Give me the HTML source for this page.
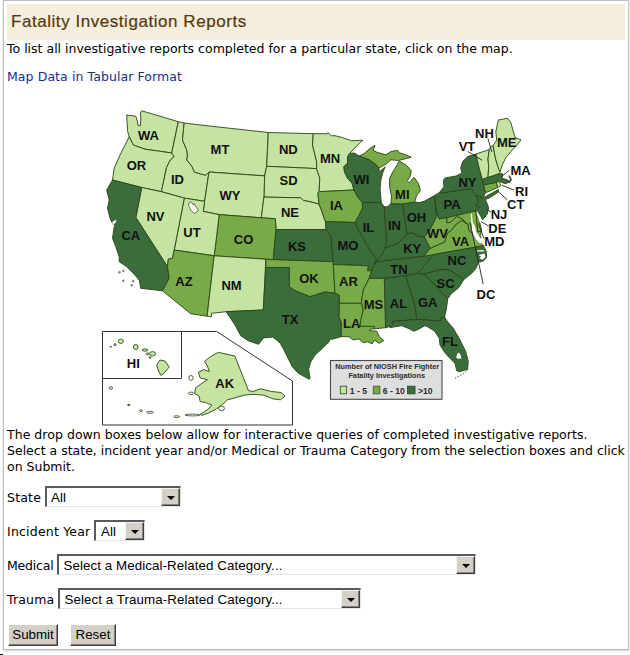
<!DOCTYPE html>
<html><head><meta charset="utf-8"><title>Fatality Investigation Reports</title>
<style>
html,body{margin:0;padding:0;background:#fff;}
body{width:630px;height:655px;position:relative;overflow:hidden;font-family:"DejaVu Sans","Liberation Sans",sans-serif;font-size:12.5px;color:#000;}
#frame{position:absolute;left:3px;top:0;width:624px;height:648px;border:1px solid #bdbdbd;box-sizing:content-box;box-shadow:0 1px 2px rgba(0,0,0,.18);}
#band{position:absolute;left:7px;top:4px;width:618px;height:35.5px;background:#f5eedc;}
h1{position:absolute;left:11px;top:12px;margin:0;font:normal 17px/20px "Liberation Sans",sans-serif;color:#54390f;-webkit-text-stroke:.2px #54390f;white-space:nowrap;letter-spacing:.55px;}
.t{position:absolute;left:7px;margin:0;white-space:nowrap;line-height:16px;}
a{color:#1b2d8c;text-decoration:none;letter-spacing:.08px;}
.sel{position:absolute;height:21px;box-sizing:border-box;background:#fff;border:solid;border-width:2px 1px 1px 2px;border-color:#5a5a5a #e4e4e4 #e4e4e4 #5a5a5a;font:13.33px/20px "Liberation Sans",sans-serif;letter-spacing:.08px;padding-left:4px;white-space:nowrap;}
.sel i{position:absolute;right:0;top:0;width:19px;height:18px;box-sizing:border-box;background:#d4d0c8;border:1px solid;border-color:#f4f2ee #404040 #404040 #f4f2ee;box-shadow:inset -1px -1px 0 #808080;}
.sel i:after{content:"";position:absolute;left:5px;top:7px;border:4px solid transparent;border-top:4px solid #000;border-bottom:0;}
.btn{position:absolute;height:21px;box-sizing:border-box;background:#d4d0c8;border:1px solid;border-color:#fff #404040 #404040 #fff;box-shadow:inset -1px -1px 0 #808080;font:13.33px/19px "Liberation Sans",sans-serif;text-align:center;}
#map{position:absolute;left:0;top:0;}
</style></head><body>
<div id="frame"></div>
<div id="spot" style="position:absolute;left:0;top:654px;width:3px;height:1px;background:#111"></div>
<div id="band"></div>
<h1>Fatality Investigation Reports</h1>
<p class="t" style="top:41px">To list all investigative reports completed for a particular state, click on the map.</p>
<p class="t" style="top:69px"><a href="#">Map Data in Tabular Format</a></p>
<svg id="map" width="630" height="655" viewBox="0 0 630 655">
<path d="M141.7 110.8 L178.3 121.7 L171.7 153.0 L156.7 150.8 L145.0 149.2 L133.3 145.0 L129.2 136.7 L127.5 130.8 L126.7 115.0 L135.8 116.2 L137.3 121.0 L138.0 125.5 L140.3 125.8 L140.8 119.0 L140.5 113.0Z" fill="#c5e3a1" stroke="#2a4414" stroke-width="0.9" stroke-linejoin="round"/>
<path d="M129.2 136.7 L133.3 145.0 L145.0 149.2 L156.7 150.8 L171.7 153.0 L174.2 156.7 L170.3 160.0 L166.5 167.6 L161.4 191.7 L141.7 187.5 L112.5 180.0 L114.2 168.3 L120.0 155.0Z" fill="#c5e3a1" stroke="#2a4414" stroke-width="0.9" stroke-linejoin="round"/>
<path d="M178.3 121.7 L184.2 123.0 L182.5 140.0 L186.7 150.0 L187.5 155.0 L186.8 160.0 L191.9 166.3 L194.4 172.0 L200.8 174.0 L205.9 175.2 L209.0 172.0 L204.6 201.3 L184.3 198.1 L161.4 191.7 L166.5 167.6 L170.3 160.0 L174.2 156.7 L171.7 153.0Z" fill="#c5e3a1" stroke="#2a4414" stroke-width="0.9" stroke-linejoin="round"/>
<path d="M184.2 123.0 L205.0 125.5 L268.3 132.5 L266.7 166.3 L264.6 175.9 L209.0 172.0 L205.9 175.2 L200.8 174.0 L194.4 172.0 L191.9 166.3 L186.8 160.0 L187.5 155.0 L186.7 150.0 L182.5 140.0Z" fill="#c5e3a1" stroke="#2a4414" stroke-width="0.9" stroke-linejoin="round"/>
<path d="M268.3 132.5 L313.3 133.7 L312.5 145.0 L316.7 161.7 L316.6 168.6 L266.7 166.3Z" fill="#c5e3a1" stroke="#2a4414" stroke-width="0.9" stroke-linejoin="round"/>
<path d="M266.7 166.3 L316.6 168.6 L317.9 172.7 L319.8 177.8 L319.1 191.7 L317.9 193.0 L319.1 204.2 L310.9 201.9 L303.3 200.4 L300.7 197.8 L263.9 197.1 L264.6 175.9Z" fill="#c5e3a1" stroke="#2a4414" stroke-width="0.9" stroke-linejoin="round"/>
<path d="M209.0 172.0 L264.6 175.9 L263.9 197.1 L261.3 217.8 L219.2 214.6 L203.3 211.4 L204.6 201.3Z" fill="#c5e3a1" stroke="#2a4414" stroke-width="0.9" stroke-linejoin="round"/>
<path d="M263.9 197.1 L300.7 197.8 L303.3 200.4 L310.9 201.9 L319.1 204.2 L321.7 210.8 L324.2 218.4 L325.5 221.6 L326.1 229.6 L276.0 229.6 L275.3 218.7 L261.3 217.8Z" fill="#c5e3a1" stroke="#2a4414" stroke-width="0.9" stroke-linejoin="round"/>
<path d="M219.2 214.6 L261.3 217.8 L275.3 218.7 L276.0 229.6 L273.3 259.7 L265.8 259.2 L214.2 255.8Z" fill="#78ab48" stroke="#2a4414" stroke-width="0.9" stroke-linejoin="round"/>
<path d="M184.3 198.1 L204.6 201.3 L203.3 211.4 L219.2 214.6 L214.2 255.8 L174.2 250.0Z" fill="#c5e3a1" stroke="#2a4414" stroke-width="0.9" stroke-linejoin="round"/>
<path d="M141.7 187.5 L161.4 191.7 L184.3 198.1 L174.2 250.0 L172.5 258.3 L168.3 259.2 L167.5 266.7 L135.8 217.5Z" fill="#c5e3a1" stroke="#2a4414" stroke-width="0.9" stroke-linejoin="round"/>
<path d="M112.5 180.0 L141.7 187.5 L135.8 217.5 L167.5 266.7 L169.2 278.3 L162.5 290.8 L140.8 288.3 L139.2 280.0 L133.3 273.3 L126.7 266.7 L119.2 261.7 L119.2 256.7 L115.8 246.7 L112.5 238.3 L114.2 226.7 L110.0 218.3 L107.5 208.3 L109.2 200.0 L106.7 190.0Z" fill="#3b6d3c" stroke="#2a4414" stroke-width="0.9" stroke-linejoin="round"/>
<path d="M174.2 250.0 L214.2 255.8 L207.1 316.2 L190.6 313.7 L162.5 290.8 L169.2 278.3 L167.5 266.7 L168.3 259.2 L172.5 258.3Z" fill="#78ab48" stroke="#2a4414" stroke-width="0.9" stroke-linejoin="round"/>
<path d="M214.2 255.8 L265.8 259.2 L263.3 310.0 L226.1 311.7 L211.5 313.3 L211.5 316.8 L207.1 316.2Z" fill="#c5e3a1" stroke="#2a4414" stroke-width="0.9" stroke-linejoin="round"/>
<path d="M276.0 229.6 L326.1 229.6 L330.8 235.8 L333.3 261.7 L273.3 259.7Z" fill="#3b6d3c" stroke="#2a4414" stroke-width="0.9" stroke-linejoin="round"/>
<path d="M273.3 259.7 L333.3 261.7 L333.3 264.5 L335.0 293.3 L325.0 292.0 L310.0 296.7 L295.0 290.8 L289.2 286.7 L289.2 267.5 L265.8 267.5 L265.8 259.2Z" fill="#78ab48" stroke="#2a4414" stroke-width="0.9" stroke-linejoin="round"/>
<path d="M313.3 133.7 L327.5 133.7 L328.0 132.6 L329.0 133.9 L331.7 135.8 L335.0 135.7 L342.6 137.6 L351.5 140.8 L362.9 140.2 L356.6 145.9 L349.6 153.5 L347.7 156.7 L347.7 163.0 L343.9 166.8 L344.5 171.9 L347.7 178.3 L352.1 183.3 L354.0 190.0 L319.1 191.7 L319.8 177.8 L317.9 172.7 L316.6 168.6 L316.7 161.7 L312.5 145.0Z" fill="#c5e3a1" stroke="#2a4414" stroke-width="0.9" stroke-linejoin="round"/>
<path d="M319.1 191.7 L354.0 190.0 L357.2 196.0 L362.3 202.4 L362.5 208.3 L358.3 216.7 L355.0 222.5 L356.5 224.8 L354.2 222.5 L325.5 221.6 L324.2 218.4 L321.7 210.8 L319.1 204.2 L317.9 193.0Z" fill="#78ab48" stroke="#2a4414" stroke-width="0.9" stroke-linejoin="round"/>
<path d="M325.5 221.6 L354.2 222.5 L356.5 224.8 L358.3 230.0 L363.3 238.3 L366.7 245.0 L372.5 253.3 L376.7 260.0 L374.5 264.5 L373.3 266.0 L371.7 270.8 L367.5 270.8 L368.3 265.8 L333.3 264.5 L333.3 261.7 L330.8 235.8 L326.1 229.6Z" fill="#3b6d3c" stroke="#2a4414" stroke-width="0.9" stroke-linejoin="round"/>
<path d="M333.3 264.5 L368.3 265.8 L367.5 270.8 L371.7 270.8 L369.2 278.3 L363.3 290.0 L361.7 300.0 L361.5 303.3 L339.2 303.3 L339.2 295.0 L335.0 293.3Z" fill="#78ab48" stroke="#2a4414" stroke-width="0.9" stroke-linejoin="round"/>
<path d="M339.2 303.3 L361.5 303.3 L363.3 310.0 L361.1 318.9 L360.0 326.1 L374.4 326.4 L374.4 328.9 L371.0 329.0 L369.0 330.5 L373.0 331.0 L376.7 331.1 L379.4 336.7 L383.9 340.6 L378.9 343.3 L374.4 340.0 L372.2 343.9 L367.8 341.7 L363.3 342.8 L358.9 338.9 L353.3 340.0 L348.9 336.7 L341.1 336.7 L341.1 322.2 L338.9 316.7Z" fill="#78ab48" stroke="#2a4414" stroke-width="0.9" stroke-linejoin="round"/>
<path d="M369.2 278.3 L384.3 278.1 L385.0 300.0 L385.6 327.8 L384.4 327.8 L374.4 328.9 L374.4 326.4 L360.0 326.1 L361.1 318.9 L363.3 310.0 L361.5 303.3 L361.7 300.0 L363.3 290.0Z" fill="#78ab48" stroke="#2a4414" stroke-width="0.9" stroke-linejoin="round"/>
<path d="M384.3 278.1 L405.7 275.7 L415.2 306.7 L416.8 319.4 L392.2 321.5 L392.5 324.5 L390.5 327.5 L388.9 326.7 L385.6 327.8 L385.0 300.0Z" fill="#3b6d3c" stroke="#2a4414" stroke-width="0.9" stroke-linejoin="round"/>
<path d="M374.2 265.8 L374.8 262.2 L383.5 260.6 L424.0 256.2 L433.5 254.6 L417.6 273.5 L405.7 275.7 L384.3 278.1 L369.2 278.3 L371.7 270.8 L373.3 266.0Z" fill="#3b6d3c" stroke="#2a4414" stroke-width="0.9" stroke-linejoin="round"/>
<path d="M376.7 260.0 L381.7 255.0 L385.0 248.3 L390.0 245.8 L396.7 244.2 L403.3 238.3 L407.0 234.0 L412.0 232.5 L418.0 236.0 L424.4 236.8 L427.0 241.9 L430.2 248.3 L424.0 256.2 L383.5 260.6 L374.8 262.2 L374.5 264.5Z" fill="#3b6d3c" stroke="#2a4414" stroke-width="0.9" stroke-linejoin="round"/>
<path d="M362.3 202.4 L381.3 202.6 L383.9 206.2 L384.2 206.7 L386.7 241.7 L385.0 248.3 L381.7 255.0 L376.7 260.0 L372.5 253.3 L366.7 245.0 L363.3 238.3 L358.3 230.0 L356.5 224.8 L355.0 222.5 L358.3 216.7 L362.5 208.3Z" fill="#3b6d3c" stroke="#2a4414" stroke-width="0.9" stroke-linejoin="round"/>
<path d="M384.2 206.7 L387.1 206.8 L390.9 203.7 L402.6 203.9 L407.0 234.0 L403.3 238.3 L396.7 244.2 L390.0 245.8 L385.0 248.3 L386.7 241.7Z" fill="#3b6d3c" stroke="#2a4414" stroke-width="0.9" stroke-linejoin="round"/>
<path d="M402.6 203.9 L414.7 202.0 L419.1 202.6 L424.2 201.3 L434.4 195.6 L436.3 210.9 L436.9 216.0 L433.1 223.6 L429.3 231.2 L424.4 236.8 L418.0 236.0 L412.0 232.5 L407.0 234.0Z" fill="#3b6d3c" stroke="#2a4414" stroke-width="0.9" stroke-linejoin="round"/>
<path d="M399.1 161.1 L406.1 164.9 L411.2 170.6 L410.6 175.7 L407.4 180.8 L409.3 182.7 L414.0 177.2 L418.5 183.6 L420.4 190.6 L416.6 195.6 L414.7 202.0 L402.6 203.9 L390.9 203.7 L391.5 196.0 L389.6 187.1 L389.6 178.3 L392.8 171.9 L396.0 166.8Z" fill="#78ab48" stroke="#2a4414" stroke-width="0.9" stroke-linejoin="round"/>
<path d="M359.1 156.0 L364.2 153.5 L369.9 148.4 L375.0 145.2 L373.1 150.3 L376.9 152.2 L385.8 154.8 L390.9 151.6 L397.2 150.3 L399.8 152.9 L406.1 154.8 L411.2 157.3 L406.1 158.6 L398.5 160.5 L390.9 159.8 L385.8 164.3 L381.3 166.8 L378.8 168.1 L375.6 164.3 L369.3 159.8Z" fill="#78ab48" stroke="#2a4414" stroke-width="0.9" stroke-linejoin="round"/>
<path d="M349.6 153.5 L354.0 152.9 L356.0 154.0 L359.1 156.0 L369.3 159.8 L375.6 164.3 L378.8 168.1 L379.4 171.9 L385.2 166.8 L382.6 173.2 L380.7 180.8 L380.1 189.7 L381.3 202.6 L362.3 202.4 L357.2 196.0 L354.0 190.0 L352.1 183.3 L347.7 178.3 L344.5 171.9 L343.9 166.8 L347.7 163.0 L347.7 156.7Z" fill="#3b6d3c" stroke="#2a4414" stroke-width="0.9" stroke-linejoin="round"/>
<path d="M434.4 195.6 L439.4 192.5 L440.1 193.1 L471.3 188.5 L472.8 190.8 L476.6 195.9 L478.5 201.0 L476.0 206.0 L479.5 207.0 L475.9 210.8 L439.0 219.0 L436.3 210.9Z" fill="#3b6d3c" stroke="#2a4414" stroke-width="0.9" stroke-linejoin="round"/>
<path d="M440.1 193.1 L439.4 192.5 L443.9 186.7 L443.3 180.4 L445.2 177.9 L456.0 176.0 L462.0 173.0 L460.7 167.9 L462.6 161.6 L467.7 156.5 L476.0 154.0 L478.5 165.4 L482.3 179.4 L483.6 185.1 L485.5 192.1 L484.2 195.9 L483.6 198.4 L476.6 195.9 L472.8 190.8 L471.3 188.5Z" fill="#3b6d3c" stroke="#2a4414" stroke-width="0.9" stroke-linejoin="round"/>
<path d="M484.5 197.2 L492.8 192.6 L498.4 189.6 L498.2 192.3 L489.6 197.8 L485.3 199.6Z" fill="#3b6d3c" stroke="#2a4414" stroke-width="0.9" stroke-linejoin="round"/>
<path d="M476.6 195.9 L483.6 198.4 L486.1 201.0 L488.6 207.6 L487.3 214.0 L482.2 220.3 L480.3 216.5 L477.1 212.7 L475.9 210.8 L479.5 207.0 L476.0 206.0 L478.5 201.0Z" fill="#3b6d3c" stroke="#2a4414" stroke-width="0.9" stroke-linejoin="round"/>
<path d="M476.0 154.0 L489.3 149.5 L488.0 159.0 L488.7 166.7 L488.0 177.5 L482.3 179.4 L478.5 165.4Z" fill="#c5e3a1" stroke="#2a4414" stroke-width="0.9" stroke-linejoin="round"/>
<path d="M489.3 149.5 L491.2 146.3 L493.1 145.7 L495.6 159.0 L498.8 169.2 L500.1 171.7 L499.4 173.7 L488.0 177.5 L488.7 166.7 L488.0 159.0Z" fill="#c5e3a1" stroke="#2a4414" stroke-width="0.9" stroke-linejoin="round"/>
<path d="M493.1 145.7 L496.7 140.0 L495.8 131.7 L498.3 120.0 L507.5 118.3 L510.8 122.5 L515.0 137.5 L519.2 139.2 L521.0 140.0 L516.0 146.3 L510.9 151.4 L505.8 157.8 L502.6 164.1 L500.1 171.7 L498.8 169.2 L495.6 159.0Z" fill="#c5e3a1" stroke="#2a4414" stroke-width="0.9" stroke-linejoin="round"/>
<path d="M482.3 179.4 L488.0 177.5 L499.4 173.7 L502.6 173.7 L502.0 178.1 L505.8 179.4 L509.6 181.9 L505.2 183.8 L502.0 182.5 L499.4 181.3 L496.3 182.5 L483.6 185.1Z" fill="#3b6d3c" stroke="#2a4414" stroke-width="0.9" stroke-linejoin="round"/>
<path d="M496.3 182.5 L499.4 181.3 L500.7 185.7 L497.5 187.6Z" fill="#c5e3a1" stroke="#2a4414" stroke-width="0.9" stroke-linejoin="round"/>
<path d="M483.6 185.1 L496.3 182.5 L497.5 187.6 L491.8 190.2 L485.5 192.7 L485.5 192.1Z" fill="#78ab48" stroke="#2a4414" stroke-width="0.9" stroke-linejoin="round"/>
<path d="M446.7 217.8 L475.9 210.8 L477.8 231.7 L481.5 231.3 L479.7 236.8 L473.3 234.3 L468.9 230.5 L467.6 223.5 L466.3 223.5 L462.5 219.0 L456.8 216.5 L450.5 222.2 L446.7 222.9Z" fill="#78ab48" stroke="#2a4414" stroke-width="0.9" stroke-linejoin="round"/>
<path d="M475.9 210.8 L477.3 215.5 L479.6 222.0 L481.5 229.2 L481.5 231.3 L477.8 231.7Z" fill="#78ab48" stroke="#2a4414" stroke-width="0.9" stroke-linejoin="round"/>
<path d="M424.0 256.2 L430.2 248.3 L439.0 244.4 L444.8 241.9 L447.3 233.0 L451.1 230.5 L456.2 224.1 L461.9 220.3 L466.3 223.5 L467.6 223.5 L468.9 230.5 L473.3 234.3 L475.9 239.4 L479.7 241.9 L483.5 245.7 L433.5 254.6Z" fill="#78ab48" stroke="#2a4414" stroke-width="0.9" stroke-linejoin="round"/>
<path d="M479.7 236.8 L480.8 236.6 L480.6 238.6 L479.9 238.4Z" fill="#78ab48" stroke="#2a4414" stroke-width="0.9" stroke-linejoin="round"/>
<path d="M435.9 209.5 L436.3 210.9 L439.0 219.0 L446.7 217.8 L446.7 222.9 L450.5 222.2 L456.8 216.5 L462.5 219.0 L466.3 223.5 L461.9 220.3 L456.2 224.1 L451.1 230.5 L447.3 233.0 L444.8 241.9 L439.0 244.4 L430.2 248.3 L427.0 241.9 L424.4 236.8 L429.3 231.2 L433.1 223.6 L436.9 216.0Z" fill="#78ab48" stroke="#2a4414" stroke-width="0.9" stroke-linejoin="round"/>
<path d="M433.5 254.6 L483.5 245.7 L486.0 250.8 L486.7 257.1 L483.5 261.0 L478.4 262.2 L475.9 268.6 L471.7 273.3 L463.7 279.7 L451.0 271.0 L446.2 269.4 L438.3 270.2 L424.0 274.1 L417.6 273.5Z" fill="#3b6d3c" stroke="#2a4414" stroke-width="0.9" stroke-linejoin="round"/>
<path d="M424.0 274.1 L438.3 270.2 L446.2 269.4 L451.0 271.0 L463.7 279.7 L458.9 287.6 L451.0 294.0 L447.8 298.7 L441.4 292.4 L433.5 283.7Z" fill="#3b6d3c" stroke="#2a4414" stroke-width="0.9" stroke-linejoin="round"/>
<path d="M405.7 275.7 L417.6 273.5 L424.0 274.1 L433.5 283.7 L441.4 292.4 L447.8 298.7 L446.2 309.8 L444.6 317.0 L441.4 317.8 L440.6 321.0 L416.8 319.4 L415.2 306.7Z" fill="#3b6d3c" stroke="#2a4414" stroke-width="0.9" stroke-linejoin="round"/>
<path d="M392.2 321.5 L416.8 319.4 L440.6 321.0 L441.4 317.8 L444.6 317.0 L447.0 321.0 L453.3 328.3 L460.0 340.0 L465.8 351.7 L468.3 361.7 L467.5 369.2 L460.0 371.7 L456.7 370.8 L455.0 363.3 L448.3 356.7 L444.2 351.7 L440.0 345.0 L439.2 338.3 L435.0 331.7 L433.5 330.5 L427.5 326.7 L424.8 325.7 L419.2 328.9 L413.7 331.3 L409.7 328.9 L401.7 325.7 L390.5 327.5 L392.5 324.5Z" fill="#3b6d3c" stroke="#2a4414" stroke-width="0.9" stroke-linejoin="round"/>
<path d="M265.8 267.5 L289.2 267.5 L289.2 286.7 L295.0 290.8 L310.0 296.7 L325.0 292.0 L335.0 293.3 L339.2 295.0 L339.2 303.3 L338.9 316.7 L341.1 322.2 L341.1 336.7 L332.1 339.3 L329.5 339.0 L329.3 341.5 L326.4 344.3 L320.7 350.0 L315.0 355.0 L310.7 362.1 L308.6 369.3 L310.0 377.9 L309.3 379.3 L305.0 377.1 L297.9 372.9 L292.1 366.4 L287.9 357.9 L283.6 349.3 L280.0 342.9 L272.9 337.1 L263.6 337.9 L258.6 344.3 L248.3 340.8 L240.8 335.8 L235.0 325.0 L226.1 311.7 L263.3 310.0Z" fill="#3b6d3c" stroke="#2a4414" stroke-width="0.9" stroke-linejoin="round"/>
<path d="M218.3 352.3 L234.8 356.0 L248.5 390.6 L253.0 391.5 L260.3 388.8 L271.3 391.5 L281.3 392.5 L285.0 396.1 L280.4 399.8 L273.1 398.9 L264.0 395.2 L253.0 394.3 L243.9 395.2 L234.8 397.9 L227.5 399.8 L223.8 403.4 L216.5 408.9 L207.4 413.5 L201.9 415.3 L200.1 414.4 L207.4 409.8 L211.9 405.2 L205.6 402.5 L200.1 401.6 L199.2 396.1 L194.6 393.4 L195.5 387.9 L201.9 383.3 L207.4 379.7 L200.1 377.9 L198.3 372.4 L203.7 369.6 L209.2 371.5 L207.4 366.0 L204.6 361.4 L210.1 356.9Z" fill="#c5e3a1" stroke="#2a4414" stroke-width="0.9" stroke-linejoin="round"/>
<path d="M156.7 365.0 L160.0 360.0 L165.0 361.0 L169.2 367.0 L165.0 372.0 L161.0 375.5 L158.5 371.0Z" fill="#c5e3a1" stroke="#2a4414" stroke-width="0.9" stroke-linejoin="round"/>
<path d="M188.7 203.2 L191.3 201.9 L193.8 205.1 L194.4 203.8 L198.3 210.8 L194.4 213.3 L191.3 210.8 L188.7 205.7Z" fill="#fff" stroke="#2a4414" stroke-width="0.7" stroke-linejoin="round"/>
<path d="M456.0 357.5 L457.5 353.5 L459.0 352.6 L461.0 356.0 L461.5 358.5 L458.0 358.8Z" fill="#fff" stroke="none" stroke-width="0" stroke-linejoin="round"/>
<path d="M112.3 221.8 L116.5 219.5 L115.5 223.0 L113.5 224.0 L114.5 227.0 L112.6 226.0Z" fill="#fff" stroke="none" stroke-width="0" stroke-linejoin="round"/>
<path d="M477.0 250.4 L483.6 250.0 L484.0 251.4 L477.0 251.6Z" fill="#fff" stroke="none" stroke-width="0" stroke-linejoin="round"/>
<path d="M478.5 255.0 L484.6 253.6 L485.3 257.0 L482.6 259.8 L479.5 258.3 L481.0 256.5Z" fill="#fff" stroke="none" stroke-width="0" stroke-linejoin="round"/>
<path d="M471.2 213.5 L471.9 213.8 L472.8 222.5 L475.0 226.5 L476.3 232.0 L479.3 236.5 L482.0 240.0 L481.0 243.8 L478.0 241.5 L475.9 239.4 L473.5 235.0 L471.8 230.0 L472.0 226.0 L471.3 222.0 L470.8 217.0Z" fill="#fff" stroke="none" stroke-width="0" stroke-linejoin="round"/>
<path d="M476.3 211.3 L477.3 211.8 L480.3 216.5 L482.2 220.3 L483.5 222.5 L482.0 224.0 L479.6 222.0 L477.3 215.5Z" fill="#fff" stroke="none" stroke-width="0" stroke-linejoin="round"/>
<path d="M102.5 331.5 L181.5 331.5 L181.5 378.5 L102.5 378.5Z" fill="none" stroke="#333" stroke-width="1"/>
<path d="M102.5 378.5 L102.5 425.0 L292.5 425.0 L292.5 381.0 L216.7 331.5 L181.5 331.5" fill="none" stroke="#333" stroke-width="1"/>
<ellipse cx="120.8" cy="341.3" rx="2.6" ry="2.2" fill="#c5e3a1" stroke="#2a4414" stroke-width="0.8"/>
<ellipse cx="115.0" cy="344.7" rx="1.2" ry="0.9" fill="#c5e3a1" stroke="#2a4414" stroke-width="0.8"/>
<ellipse cx="110.8" cy="346.7" rx="0.7" ry="0.6" fill="#c5e3a1" stroke="#2a4414" stroke-width="0.8"/>
<ellipse cx="135.8" cy="347.0" rx="2.4" ry="2.6" fill="#c5e3a1" stroke="#2a4414" stroke-width="0.8"/>
<ellipse cx="145.0" cy="350.0" rx="3.0" ry="1.2" fill="#c5e3a1" stroke="#2a4414" stroke-width="0.8"/>
<ellipse cx="152.5" cy="353.8" rx="3.0" ry="2.2" fill="#c5e3a1" stroke="#2a4414" stroke-width="0.8"/>
<ellipse cx="147.5" cy="353.8" rx="1.3" ry="1.1" fill="#c5e3a1" stroke="#2a4414" stroke-width="0.8"/>
<ellipse cx="150.0" cy="357.5" rx="1.0" ry="0.8" fill="#c5e3a1" stroke="#2a4414" stroke-width="0.8"/>
<ellipse cx="110.8" cy="388.0" rx="1.8" ry="1.2" fill="#fff" stroke="#2a4414" stroke-width="0.8"/>
<ellipse cx="129.2" cy="405.0" rx="0.9" ry="0.7" fill="#fff" stroke="#2a4414" stroke-width="0.8"/>
<ellipse cx="191.0" cy="377.9" rx="2.2" ry="2.4" fill="#fff" stroke="#2a4414" stroke-width="0.8"/>
<ellipse cx="191.0" cy="393.4" rx="2.7" ry="1.3" fill="#fff" stroke="#2a4414" stroke-width="0.8"/>
<ellipse cx="221.5" cy="408.4" rx="3.0" ry="2.2" fill="#fff" stroke="#2a4414" stroke-width="0.8"/>
<ellipse cx="176.7" cy="416.7" rx="3.0" ry="0.9" fill="#fff" stroke="#2a4414" stroke-width="0.8"/>
<ellipse cx="150.0" cy="412.3" rx="3.5" ry="1.0" fill="#fff" stroke="#2a4414" stroke-width="0.8"/>
<ellipse cx="141.0" cy="410.7" rx="1.5" ry="0.9" fill="#fff" stroke="#2a4414" stroke-width="0.8"/>
<ellipse cx="128.3" cy="405.0" rx="0.8" ry="0.6" fill="#fff" stroke="#2a4414" stroke-width="0.8"/>
<ellipse cx="192.5" cy="415.0" rx="7.5" ry="0.9" fill="#fff" stroke="#2a4414" stroke-width="0.8"/>
<circle cx="123.3" cy="270.8" r="0.9" fill="#999" stroke="#555" stroke-width="0.6"/>
<circle cx="123.3" cy="280.8" r="0.9" fill="#999" stroke="#555" stroke-width="0.6"/>
<circle cx="133.3" cy="281.2" r="0.9" fill="#999" stroke="#555" stroke-width="0.6"/>
<circle cx="131.7" cy="285.3" r="0.9" fill="#999" stroke="#555" stroke-width="0.6"/>
<circle cx="119.5" cy="272.3" r="0.9" fill="#999" stroke="#555" stroke-width="0.6"/>
<path d="M455 378.3 L462 374.5 L468.3 369.5" fill="none" stroke="#333" stroke-width="0.9" stroke-dasharray="1.5 1.5"/>
<path d="M505.8 179.4 L509.6 181.9 L511 179.4 L509 175.6" fill="none" stroke="#2a4a2a" stroke-width="1.6"/>
<rect x="330.5" y="360.5" width="111.5" height="38.8" fill="#dedede" stroke="#4a4a4a" stroke-width="1.1"/>
<g font-family="Liberation Sans, sans-serif" font-weight="bold" font-size="7.3" fill="#2b2b2b"><text x="387.2" y="369.3" text-anchor="middle">Number of NIOSH Fire Fighter</text><text x="386.7" y="378.4" text-anchor="middle">Fatality Investigations</text></g>
<rect x="340.3" y="386.2" width="6.3" height="7.6" fill="#c5e3a1" stroke="#3a5a2a" stroke-width="0.9"/>
<rect x="373.3" y="386.2" width="6.5" height="7.6" fill="#78ab48" stroke="#3a5a2a" stroke-width="0.9"/>
<rect x="407.6" y="386.2" width="7.4" height="7.6" fill="#3b6d3c" stroke="#2a4a2a" stroke-width="0.9"/>
<g font-family="Liberation Sans, sans-serif" font-weight="bold" font-size="8.6" fill="#2b2b2b"><text x="349.8" y="394.2">1 - 5</text><text x="382.8" y="394.2">6 - 10</text><text x="418" y="394.2">&gt;10</text></g>
<line x1="467.7" y1="151.4" x2="482.3" y2="160.3" stroke="#222" stroke-width="0.9"/>
<line x1="488.0" y1="138.5" x2="491.8" y2="152.0" stroke="#222" stroke-width="0.9"/>
<line x1="509.0" y1="170.5" x2="501.3" y2="176.8" stroke="#222" stroke-width="0.9"/>
<line x1="514.0" y1="190.2" x2="502.0" y2="185.1" stroke="#222" stroke-width="0.9"/>
<line x1="507.0" y1="199.7" x2="498.2" y2="191.4" stroke="#222" stroke-width="0.9"/>
<line x1="491.2" y1="212.4" x2="486.7" y2="209.2" stroke="#222" stroke-width="0.9"/>
<line x1="488.6" y1="226.0" x2="481.0" y2="221.6" stroke="#222" stroke-width="0.9"/>
<line x1="484.1" y1="238.7" x2="478.4" y2="223.5" stroke="#222" stroke-width="0.9"/>
<line x1="483.2" y1="284.1" x2="470.0" y2="222.5" stroke="#222" stroke-width="0.9"/>
<g font-family="Liberation Sans, sans-serif" font-weight="bold" font-size="13" fill="#111" text-anchor="middle">
<text x="148.5" y="140.2">WA</text>
<text x="136.5" y="170.2">OR</text>
<text x="177.5" y="183.7">ID</text>
<text x="220.0" y="154.2">MT</text>
<text x="288.3" y="154.0">ND</text>
<text x="288.5" y="185.4">SD</text>
<text x="330.0" y="162.7">MN</text>
<text x="230.0" y="199.7">WY</text>
<text x="290.0" y="216.7">NE</text>
<text x="155.5" y="221.2">NV</text>
<text x="192.0" y="237.2">UT</text>
<text x="243.5" y="244.2">CO</text>
<text x="297.0" y="250.7">KS</text>
<text x="130.8" y="240.2">CA</text>
<text x="184.0" y="286.2">AZ</text>
<text x="231.5" y="290.2">NM</text>
<text x="309.0" y="282.7">OK</text>
<text x="290.0" y="323.9">TX</text>
<text x="336.5" y="210.2">IA</text>
<text x="348.0" y="250.2">MO</text>
<text x="348.5" y="286.2">AR</text>
<text x="351.7" y="328.0">LA</text>
<text x="373.5" y="308.7">MS</text>
<text x="398.5" y="308.0">AL</text>
<text x="427.7" y="306.7">GA</text>
<text x="450.0" y="346.4">FL</text>
<text x="445.5" y="287.7">SC</text>
<text x="457.0" y="265.2">NC</text>
<text x="399.0" y="273.7">TN</text>
<text x="412.2" y="252.7">KY</text>
<text x="437.5" y="238.2">WV</text>
<text x="460.5" y="245.7">VA</text>
<text x="368.5" y="232.2">IL</text>
<text x="394.5" y="229.7">IN</text>
<text x="416.5" y="221.7">OH</text>
<text x="402.3" y="198.7">MI</text>
<text x="361.5" y="184.2">WI</text>
<text x="452.0" y="209.2">PA</text>
<text x="467.5" y="186.7">NY</text>
<text x="506.7" y="147.2">ME</text>
<text x="484.5" y="138.0">NH</text>
<text x="467.0" y="150.5">VT</text>
<text x="520.5" y="174.5">MA</text>
<text x="521.5" y="196.2">RI</text>
<text x="515.7" y="208.7">CT</text>
<text x="499.0" y="219.1">NJ</text>
<text x="497.3" y="233.2">DE</text>
<text x="494.3" y="246.1">MD</text>
<text x="486.0" y="299.0">DC</text>
<text x="133.3" y="368.0">HI</text>
<text x="224.7" y="388.4">AK</text>
</g>
</svg>
<p class="t" style="top:427px;letter-spacing:.038px">The drop down boxes below allow for interactive queries of completed investigative reports.</p>
<p class="t" style="top:443px">Select a state, incident year and/or Medical or Trauma Category from the selection boxes and click</p>
<p class="t" style="top:459px">on Submit.</p>
<p class="t" style="top:490px;letter-spacing:.2px">State</p>
<div class="sel" style="left:45px;top:486px;width:136px">All<i></i></div>
<p class="t" style="top:524px;letter-spacing:.2px">Incident Year</p>
<div class="sel" style="left:94px;top:520px;width:51px;padding-left:5px">All<i></i></div>
<p class="t" style="top:558px;letter-spacing:-.2px">Medical</p>
<div class="sel" style="left:57px;top:554px;width:419px;padding-left:4.5px">Select a Medical-Related Category...<i></i></div>
<p class="t" style="top:592px;letter-spacing:.17px">Trauma</p>
<div class="sel" style="left:58px;top:588px;width:303px;padding-left:4.5px">Select a Trauma-Related Category...<i></i></div>
<div class="btn" style="left:8px;top:624px;width:50px;height:22px">Submit</div>
<div class="btn" style="left:70px;top:624px;width:46px;height:22px">Reset</div>
</body></html>
